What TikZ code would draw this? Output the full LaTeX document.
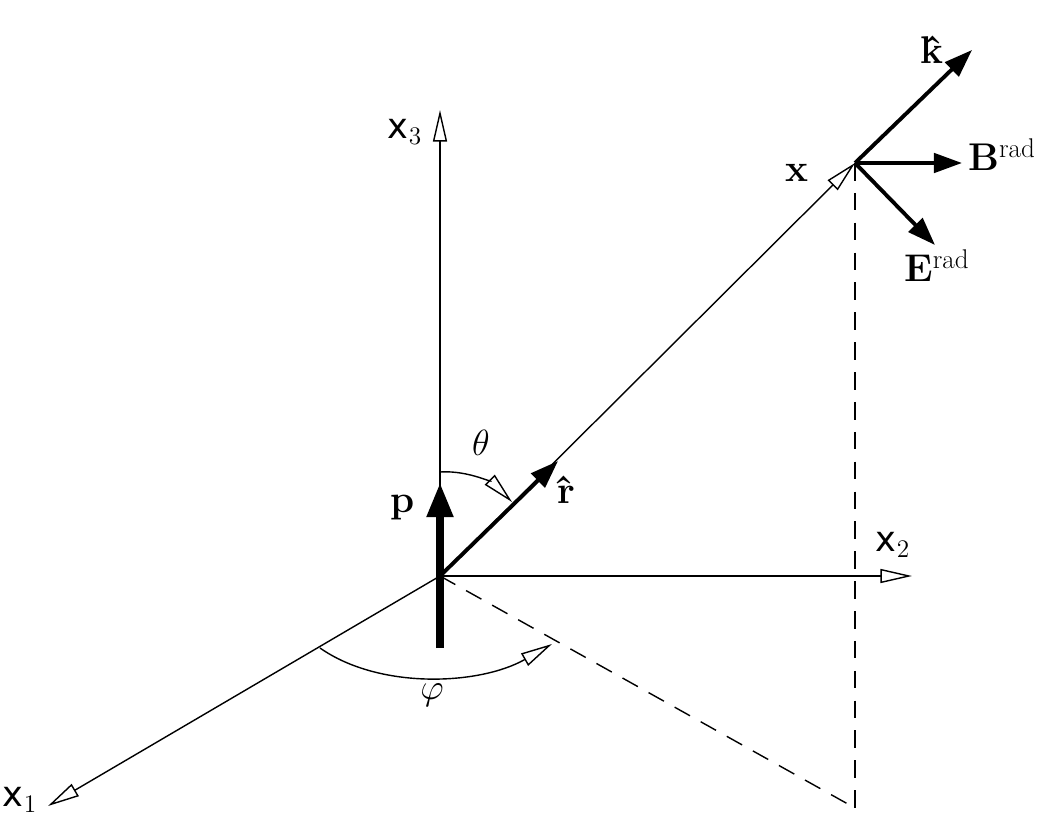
\documentclass[tikz,border=0pt]{standalone}
\usepackage{fontspec}
\newfontfamily\axf{DejaVu Sans}
\usetikzlibrary{arrows.meta}
\begin{document}
\begin{tikzpicture}[x=0.02cm,y=-0.02cm,
  axis/.style={line width=0.8pt,-{Triangle[open,length=18pt,width=8pt]}},
  vec/.style={line width=2.2pt,-{Triangle[length=16pt,width=11pt]}},
  dsh/.style={dashed,dash pattern=on 10pt off 7pt,line width=0.8pt},
  lab/.style={font=\fontsize{22}{26}\selectfont},
  alab/.style={font=\axf\fontsize{20}{24}\selectfont}]
\useasboundingbox (0,0) rectangle (1055,824);
\coordinate (O) at (440,576);
\coordinate (X) at (855,163);
\coordinate (X3) at (440,110);
\coordinate (X2) at (912,576);
\coordinate (X1) at (48,806);
\coordinate (B) at (855,808);
\coordinate (K) at (972,50);
\coordinate (Br) at (962,163);
\coordinate (Er) at (935,245);
\coordinate (R) at (558,461);
\coordinate (P0) at (440,648);
\coordinate (P1) at (440,482);
\draw[axis] (O) -- (X3);
\draw[axis] (O) -- (X2);
\draw[axis] (O) -- (X1);
\draw[axis] (O) -- (X);
\draw[dsh] (X) -- (B);
\draw[dsh] (O) -- (B);
\draw[vec] (O) -- (R);
\draw[line width=5pt,-{Triangle[length=20pt,width=14pt]}] (P0) -- (P1);
\draw[vec] (X) -- (K);
\draw[vec] (X) -- (Br);
\draw[vec] (X) -- (Er);
\coordinate (t0) at (440,472);
\coordinate (t1) at (512,502);
\draw[axis] (t0) .. controls (470,470) and (495,485) .. (t1);
\coordinate (f0) at (320,648);
\coordinate (f1) at (552,644);
\draw[axis] (f0) .. controls (380,690) and (480,685) .. (f1);
\node[alab] (l3) at (405,132) {x$_3$};
\node[alab] (l2) at (893,545) {x$_2$};
\node[alab] (l1) at (20,800) {x$_1$};
\node[lab] (lx) at (797,173) {\textbf{x}};
\node[lab] (lk) at (932,50) {\textbf{\^k}};
\node[lab] (lb) at (1002,155) {\textbf{B}$^{\mathrm{rad}}$};
\node[lab] (le) at (937,266) {\textbf{E}$^{\mathrm{rad}}$};
\node[lab] (lt) at (481,443) {$\theta$};
\node[lab] (lr) at (566,490) {\textbf{\^r}};
\node[lab] (lp) at (403,508) {\textbf{p}};
\node[lab] (lf) at (432,695) {$\varphi$};
\end{tikzpicture}
\end{document}
